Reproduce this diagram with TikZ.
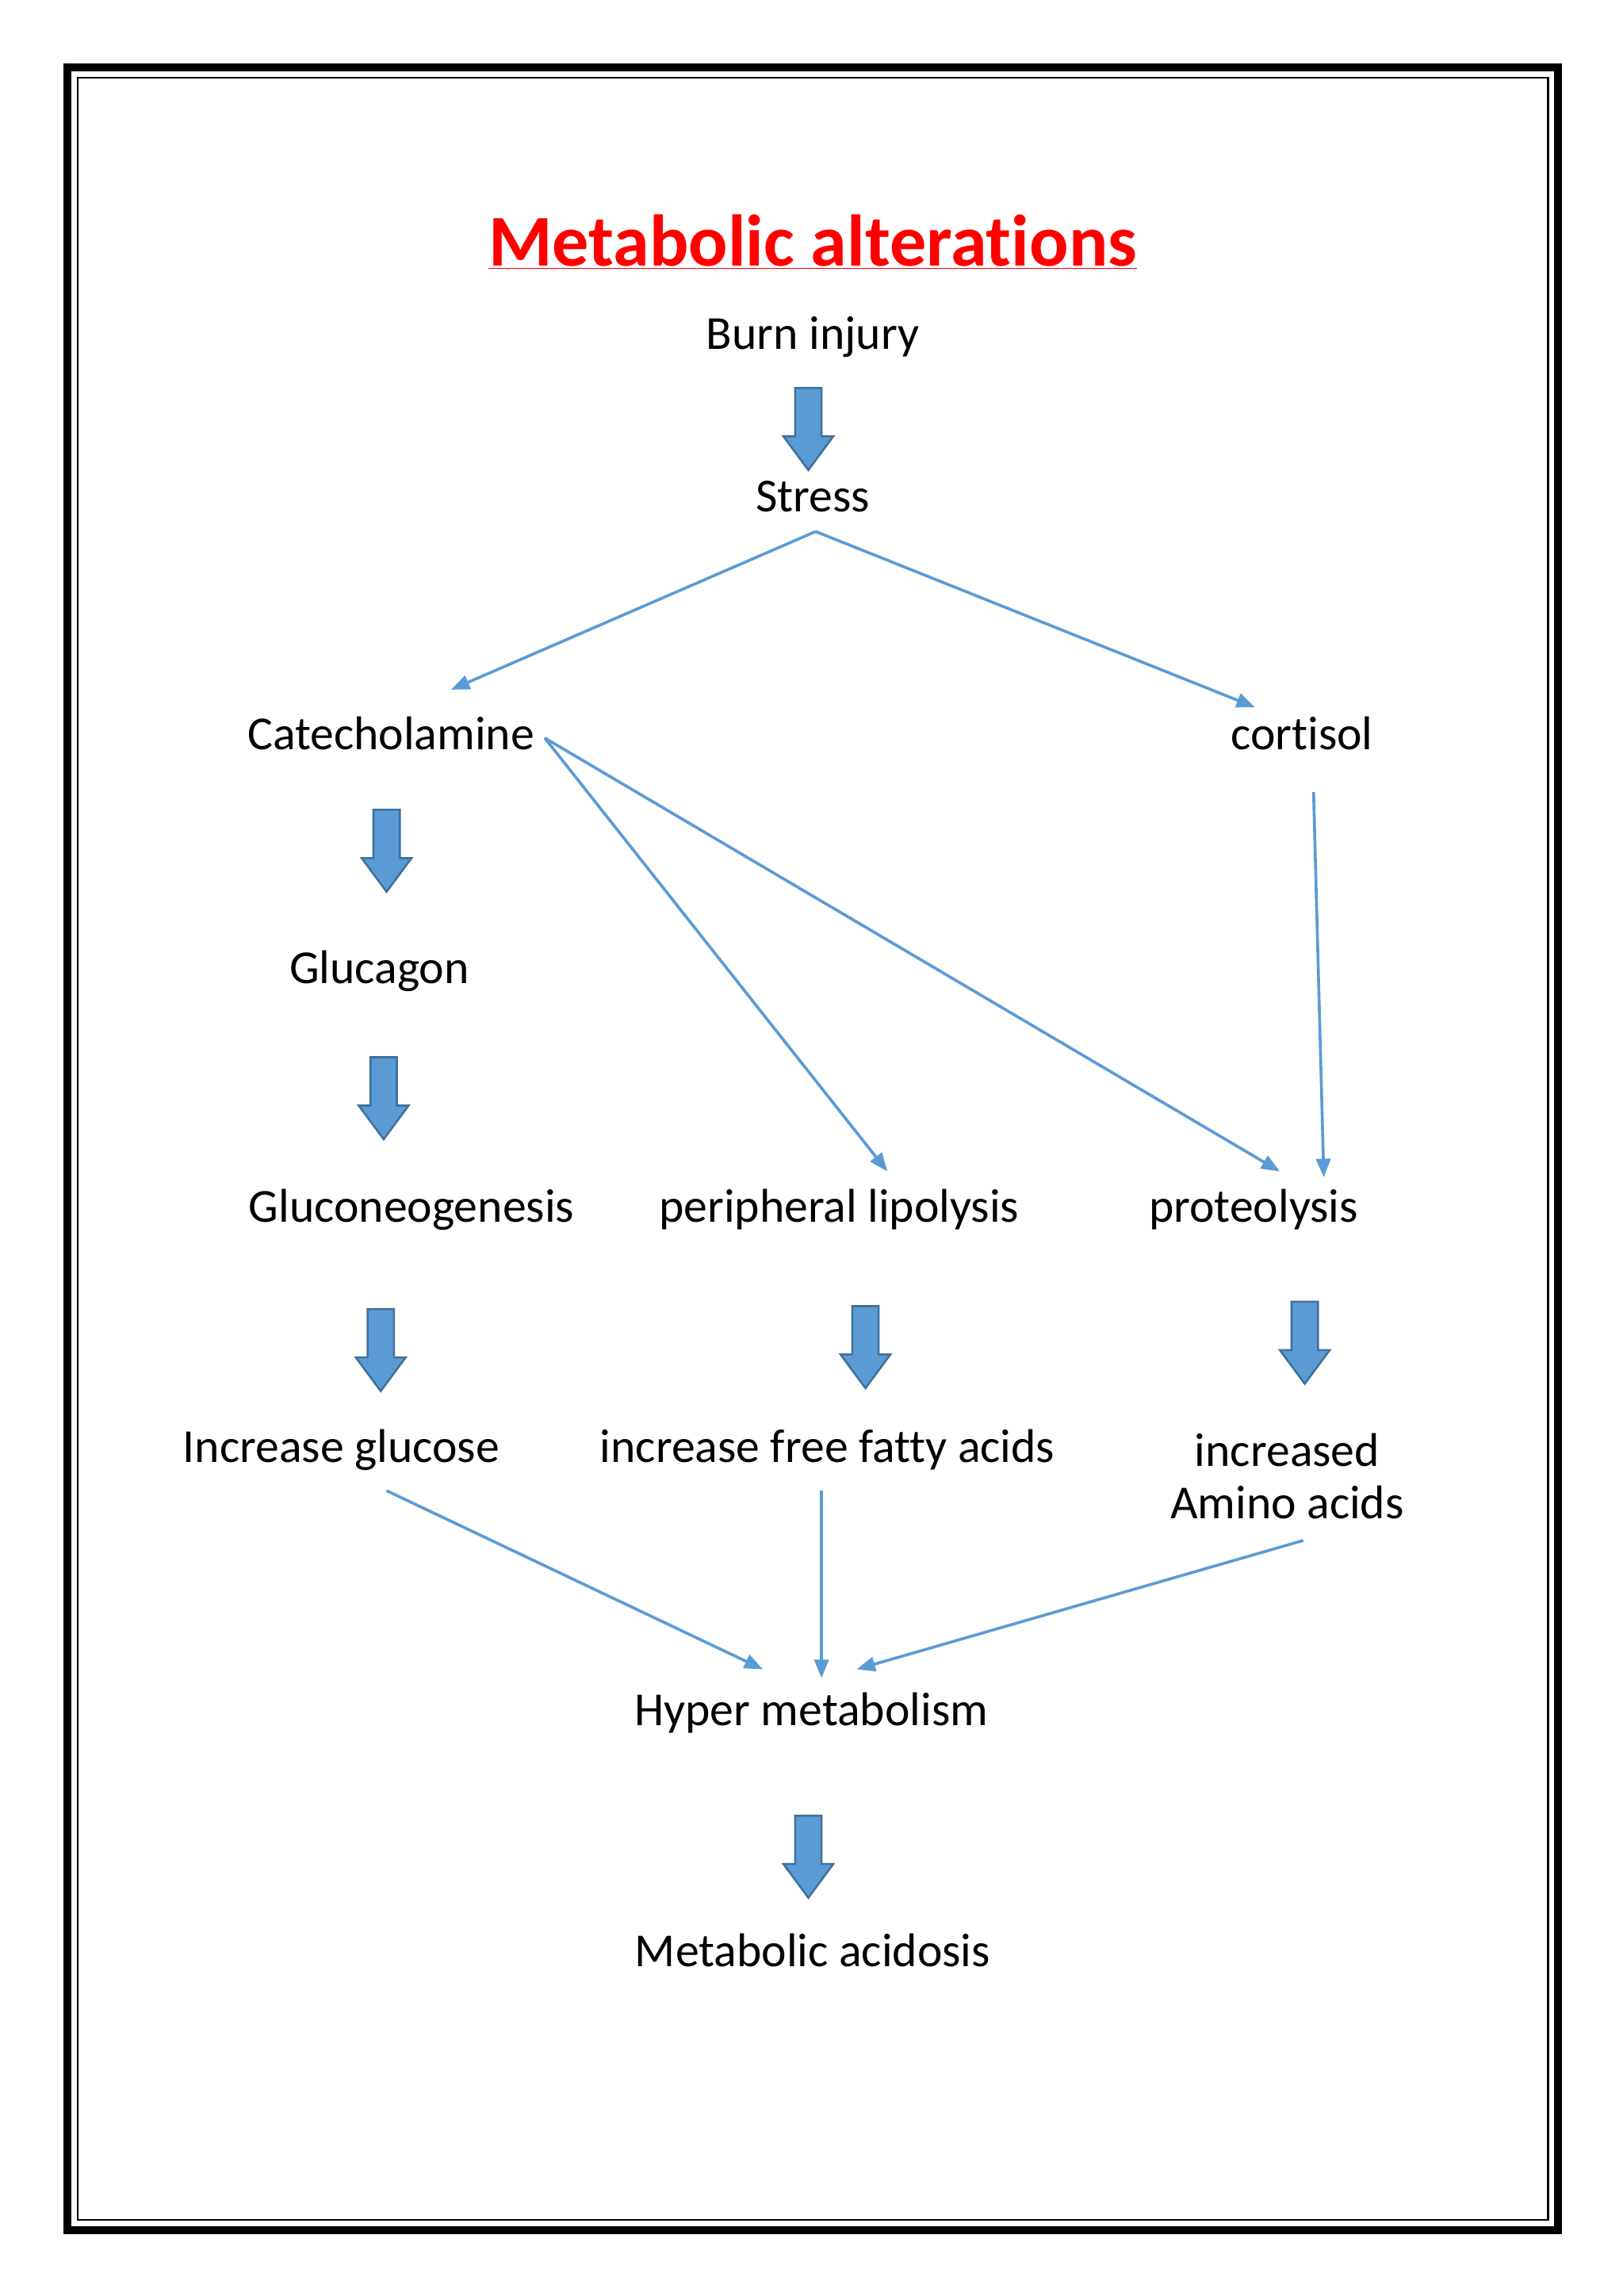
\documentclass[tikz,border=0pt]{standalone}
\usepackage{fontspec}
\setmainfont[Ligatures=NoCommon]{Carlito}
\usetikzlibrary{arrows.meta}
\definecolor{ablue}{HTML}{5B9BD5}
\definecolor{aedge}{HTML}{41719C}
\tikzset{
  lbl/.style={font=\fontsize{46}{51}\selectfont, align=center, inner sep=0pt},
  thin/.style={draw=ablue, line width=2.8pt, -{Triangle[length=18pt,width=14pt]}},
  blockarrow/.pic={\filldraw[fill=ablue, draw=aedge, line width=2pt]
    (-9,0) -- (9,0) -- (9,33) -- (17,33) -- (0,56) -- (-17,33) -- (-9,33) -- cycle;}
}
\begin{document}
\begin{tikzpicture}[x=0.05cm,y=-0.05cm]
\useasboundingbox[fill=white] (0,0) rectangle (1108,1568);
\draw[line width=8pt] (46,46) rectangle (1064,1523);
\draw[line width=2pt] (53,53) rectangle (1057,1516);
\node[lbl, font=\fontsize{71}{80}\selectfont\bfseries, text=red] (title) at (555,165) {\underline{Metabolic alterations}};
\node[lbl] (burn) at (555,230) {Burn injury};
\node[lbl] (stress) at (555,339) {Stress};
\node[lbl] (cat) at (267,501) {Catecholamine};
\node[lbl] (cort) at (889,501) {cortisol};
\node[lbl] (gluc) at (259,663) {Glucagon};
\node[lbl] (gneo) at (281,826) {Gluconeogenesis};
\node[lbl] (lipo) at (573,826) {peripheral lipolysis};
\node[lbl] (prot) at (856,826) {proteolysis};
\node[lbl] (incg) at (233,990) {Increase glucose};
\node[lbl] (ffa) at (565,990) {increase free fatty acids};
\node[lbl] (amino) at (879,1008) {increased\\Amino acids};
\node[lbl] (hyper) at (554,1170) {Hyper metabolism};
\node[lbl] (acid) at (555,1332) {Metabolic acidosis};
\pic at (552,265) {blockarrow};
\pic at (264,553) {blockarrow};
\pic at (262,722) {blockarrow};
\pic at (260,894) {blockarrow};
\pic at (591,892) {blockarrow};
\pic at (891,889) {blockarrow};
\pic at (552,1240) {blockarrow};
\coordinate (s0) at (557,363);
\coordinate (s1) at (308,471);
\coordinate (s2) at (857,483);
\coordinate (c0) at (372,504);
\coordinate (c1) at (606,800);
\coordinate (c2) at (874,800);
\coordinate (k0) at (897,541);
\coordinate (k1) at (904,804);
\coordinate (g0) at (264,1018);
\coordinate (g1) at (521,1140);
\coordinate (f0) at (561,1018);
\coordinate (f1) at (561,1146);
\coordinate (a0) at (890,1052);
\coordinate (a1) at (585,1140);
\draw[thin] (s0) -- (s1);
\draw[thin] (s0) -- (s2);
\draw[thin] (c0) -- (c1);
\draw[thin] (c0) -- (c2);
\draw[thin] (k0) -- (k1);
\draw[thin] (g0) -- (g1);
\draw[thin] (f0) -- (f1);
\draw[thin] (a0) -- (a1);
\end{tikzpicture}
\end{document}
